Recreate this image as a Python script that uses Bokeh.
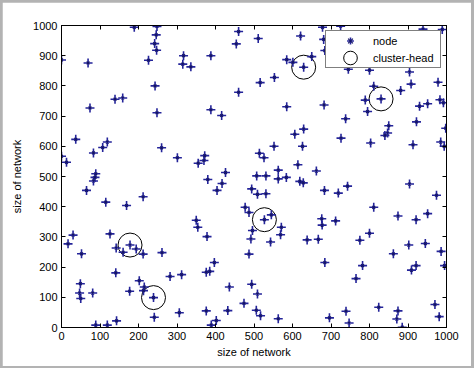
from bokeh.plotting import figure
from bokeh.models import Range1d, LinearAxis, FixedTicker, Legend, LegendItem
from bokeh.layouts import column
from bokeh.embed import file_html
from bokeh.resources import INLINE

# ---- data ----
node_x = [0, 69, 189, 248, 246, 242, 247, 226, 317, 315, 336, 388, 243, 139, 159, 74, 248, 388, 416, 37,
          0, 13, 119, 107, 83, 260, 301, 355, 370, 372, 380, 89, 87, 83, 417, 426,
          460, 454, 511, 621, 678, 725, 681, 684, 585, 601, 650, 629, 745, 800, 553, 516, 460, 904, 939, 989,
          908, 978, 881, 811, 830, 789, 795, 930, 951, 983, 992, 585, 682, 738, 922, 850, 840, 847, 629, 606,
          726, 803, 913, 998, 985, 994, 552, 626, 514, 526, 614, 662, 563, 507, 531, 563, 584, 619, 628, 904,
          65, 115, 169, 212, 17, 30, 52, 126, 142, 160, 178, 194, 212, 261, 141, 202, 215, 213, 177, 239,
          49, 47, 50, 81, 282, 312, 241, 306, 143, 89, 119, 350, 354, 378, 397, 376, 385, 376, 432, 436,
          402, 389, 404, 494, 509, 531, 683, 719, 743, 974, 477, 487, 527, 545, 571, 569, 496, 492, 543, 487,
          676, 677, 712, 638, 667, 684, 775, 800, 782, 765, 811, 874, 921, 951, 902, 945, 862, 986, 995, 921,
          909, 494, 509, 474, 506, 517, 563, 696, 739, 747, 824, 874, 871, 885, 970, 981]
node_y = [886, 876, 994, 997, 969, 940, 918, 885, 900, 872, 863, 900, 800, 756, 760, 727, 711, 721, 702, 623,
          567, 547, 614, 596, 578, 595, 562, 544, 553, 569, 490, 509, 497, 485, 477, 513,
          980, 939, 957, 965, 994, 998, 954, 917, 887, 878, 897, 862, 855, 852, 828, 811, 779, 846, 988, 987,
          806, 812, 785, 799, 757, 753, 715, 733, 741, 754, 744, 731, 737, 691, 681, 668, 636, 644, 657, 640,
          627, 611, 605, 660, 614, 600, 600, 600, 577, 562, 539, 518, 521, 502, 502, 492, 497, 484, 479, 475,
          454, 415, 404, 433, 277, 306, 244, 310, 263, 249, 273, 260, 243, 248, 181, 155, 134, 122, 120, 99,
          145, 114, 96, 114, 169, 175, 34, 49, 22, 8, 8, 355, 332, 301, 215, 183, 186, 55, 56, 134,
          23, 8, 454, 459, 441, 443, 454, 445, 468, 438, 398, 381, 357, 373, 332, 307, 321, 293, 283, 243,
          360, 339, 353, 290, 292, 215, 289, 312, 205, 162, 398, 369, 357, 377, 273, 278, 244, 252, 205, 205,
          190, 143, 111, 80, 57, 39, 29, 32, 54, 15, 67, 55, 28, 1, 76, 36]

head_x = [629, 830, 178, 239, 527]
head_y = [862, 757, 273, 99, 357]

ticks = [0, 100, 200, 300, 400, 500, 600, 700, 800, 900, 1000]
x_label = "size of network"
y_label = "size of network"
series_labels = ["node", "cluster-head"]

FONT = "Liberation Sans"

p = figure(width=469, height=364,
           x_range=Range1d(0, 1000), y_range=Range1d(0, 1000),
           output_backend="svg", toolbar_location=None,
           min_border_left=59, min_border_right=25, min_border_top=23, min_border_bottom=39,
           background_fill_color="white", border_fill_color="white")
p.grid.visible = False
p.outline_line_color = "black"

heads = p.ellipse(x=head_x, y=head_y, width=24, height=24,
                  width_units="screen", height_units="screen",
                  fill_color=None, line_color="black", line_width=1)
nodes = p.scatter(x=node_x, y=node_y, marker="cross", size=9,
                  line_color="#24249a", line_width=1.6)
nodes_c = p.scatter(x=node_x, y=node_y, marker="x", size=4,
                    line_color="#141466", line_width=1.2)

p.add_layout(LinearAxis(), "above")
p.add_layout(LinearAxis(), "right")

for ax in p.axis:
    ax.ticker = FixedTicker(ticks=ticks)
    ax.major_tick_in = 4
    ax.major_tick_out = 0
    ax.minor_tick_line_color = None
    ax.axis_line_color = "black"
    ax.major_tick_line_color = "black"
    ax.major_label_text_font = FONT
    ax.major_label_text_font_size = "11px"
    ax.major_label_text_color = "black"
    ax.axis_label_text_font = FONT
    ax.axis_label_text_font_size = "11px"
    ax.axis_label_text_font_style = "normal"
    ax.axis_label_text_color = "black"

# top and right axes: tick marks only, no labels drawn
for ax in (p.above[0], p.right[0]):
    ax.major_label_text_color = None
    ax.major_label_standoff = 0

bx = p.below[0]
bx.axis_label = x_label
bx.major_label_standoff = 4
bx.axis_label_standoff = 3

ly = p.left[0]
ly.axis_label = y_label
ly.major_label_standoff = 4
ly.axis_label_standoff = 7

legend = Legend(items=[LegendItem(label=series_labels[0], renderers=[nodes, nodes_c]),
                       LegendItem(label=series_labels[1], renderers=[heads])],
                location="top_right", margin=5, padding=1, spacing=0,
                glyph_width=46, glyph_height=17, label_height=17, label_width=66,
                label_standoff=0, label_text_font=FONT, label_text_font_size="11px",
                label_text_color="black",
                border_line_color="black", border_line_width=1,
                background_fill_color="white", background_fill_alpha=1)
p.add_layout(legend, "center")

page = column(p, styles={"background-color": "#b3b3b3", "padding": "2px 3px 2px 2px"})

open("out.html", "w").write(file_html(page, INLINE))
